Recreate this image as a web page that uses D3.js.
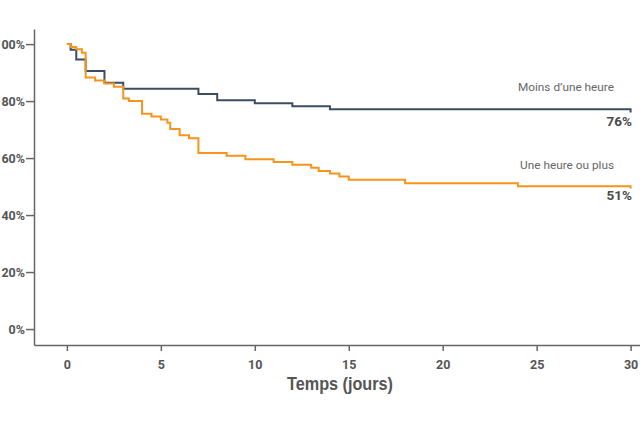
<!DOCTYPE html>
<html>
<head>
<meta charset="utf-8">
<script src="https://cdn.jsdelivr.net/npm/d3@7"></script>
<style>
  body { margin: 0; background: #fff; }
  .tick text { font-family: "Liberation Sans Narrow", "Roboto", sans-serif; font-weight: bold; font-size: 12.5px; fill: #555; }
  .domain, .tick line { stroke: #666; stroke-width: 1.5; }
</style>
</head>
<body>
<svg id="svg" width="640" height="427"></svg>
<script>
// days and survival (%) for each group
const shortDays = [0, 0.2, 0.5, 1, 2, 3, 7, 8, 10, 12, 14, 30]
const shortVals = [100, 98, 94.6, 90.6, 86.4, 84.3, 82.5, 80.3, 79.2, 78.2, 77.1, 76]

const longDays = [0, 0.2, 0.5, 0.8, 1, 1.5, 2, 2.5, 3, 3.3, 4, 4.5, 5, 5.35, 5.5, 6, 6.5, 7, 8.5, 9.5, 11, 12, 13, 13.4, 14, 14.5, 15, 18, 24, 30]
const longVals = [100, 99, 98.2, 97, 88.3, 87.2, 86.2, 85, 80.9, 80, 75.6, 74.6, 73.5, 72.4, 70.2, 68, 67, 61.8, 60.8, 59.6, 58.6, 57.7, 56.6, 55.5, 54.6, 53.5, 52.4, 51.2, 50.1, 49.3]

const xTicks = [0, 5, 10, 15, 20, 25, 30]
const yTicks = [0, 20, 40, 60, 80, 100]

const groups = [
  { name: 'Moins d\u2019une heure', final: '76%', days: shortDays, vals: shortVals, color: '#3b4d62' },
  { name: 'Une heure ou plus', final: '51%', days: longDays, vals: longVals, color: '#f7941d' }
]

const svg = d3.select('#svg')

const xScale = d3.scaleLinear()
  .domain([-1.75, 30.5])
  .range([34, 640])

const yScale = d3.scaleLinear()
  .domain([-5.6, 105.3])
  .range([345, 29])

svg.append('g')
  .attr('transform', 'translate(0, 345)')
  .call(d3.axisBottom(xScale).tickValues(xTicks).tickSize(6).tickPadding(9).tickSizeOuter(0))

svg.append('g')
  .attr('transform', 'translate(34, 0)')
  .call(d3.axisLeft(yScale).tickValues(yTicks).tickFormat(d => d + '%').tickSize(8).tickPadding(1).tickSizeOuter(0))

const lineGen = d3.line()
  .x(d => xScale(d.day))
  .y(d => yScale(d.val))
  .curve(d3.curveStepAfter)

groups.forEach((g) => {
  const pts = g.days.map((day, i) => ({ day, val: g.vals[i] }))
  svg.append('path')
    .attr('d', lineGen(pts))
    .attr('fill', 'none')
    .attr('stroke', g.color)
    .attr('stroke-width', 2)
})

// labels at the end of each curve
const labelY = [[91, 126], [169, 200]]
groups.forEach((g, i) => {
  svg.append('text')
    .attr('x', 614)
    .attr('y', labelY[i][0])
    .attr('text-anchor', 'end')
    .style('font-family', 'Roboto, sans-serif')
    .style('font-size', '11.8px')
    .style('fill', '#666')
    .text(g.name)
  svg.append('text')
    .attr('x', 632)
    .attr('y', labelY[i][1])
    .attr('text-anchor', 'end')
    .style('font-family', 'Roboto, sans-serif')
    .style('font-weight', 'bold')
    .style('font-size', '13.5px')
    .style('fill', '#4a4a4a')
    .text(g.final)
})

svg.append('text')
  .attr('x', 340)
  .attr('y', 390)
  .attr('text-anchor', 'middle')
  .attr('textLength', 106)
  .attr('lengthAdjust', 'spacingAndGlyphs')
  .style('font-family', '"Liberation Sans Narrow", sans-serif')
  .style('font-weight', 'bold')
  .style('font-size', '19px')
  .style('fill', '#555')
  .text('Temps (jours)')
</script>
</body>
</html>
